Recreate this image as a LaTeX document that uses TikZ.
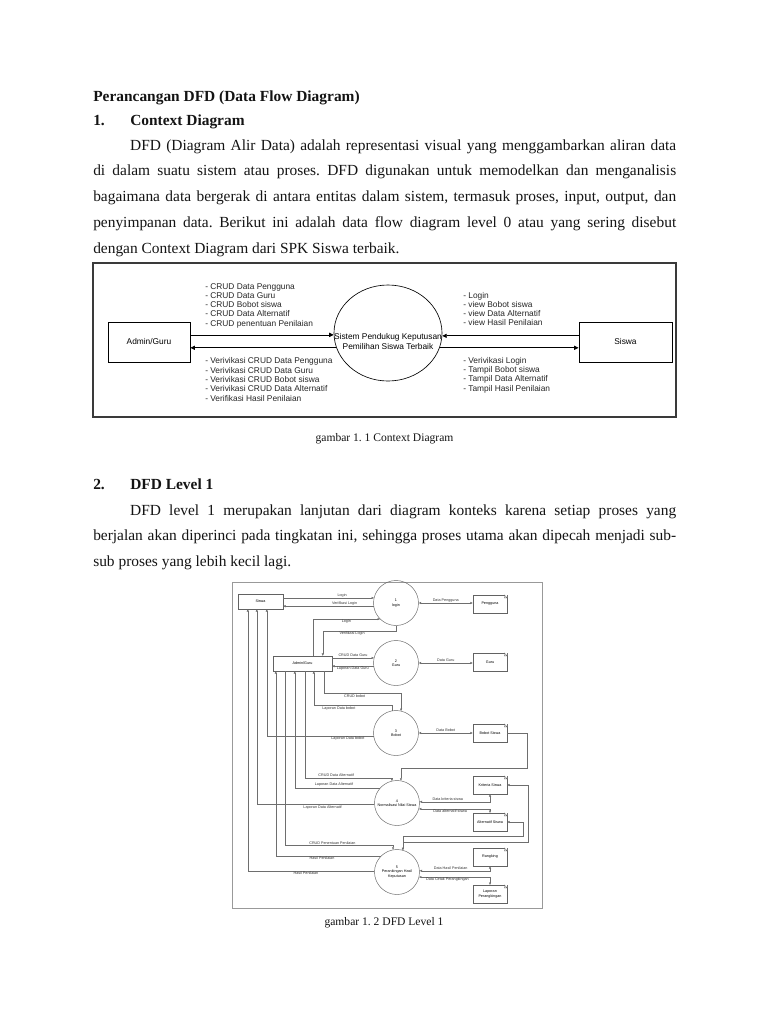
\documentclass[tikz,border=0pt]{standalone}
\usepackage{fontspec}
\setmainfont{Liberation Serif}
\setsansfont{Liberation Sans}
\usetikzlibrary{arrows.meta,positioning,shapes.geometric,calc}
\definecolor{framec}{HTML}{3A3A3A}
\definecolor{linec}{HTML}{6E6E6E}
\definecolor{boxc}{HTML}{626262}
\definecolor{inkc}{HTML}{141414}
\newcommand{\ctxfont}{\sffamily\fontsize{6.5}{7.2}\selectfont}
\newcommand{\lvfont}{\sffamily\fontsize{2.9}{3.3}\selectfont}
\frenchspacing
\tikzset{
  body/.style  ={inner sep=0pt,font=\fontsize{12}{20.15}\selectfont,text=inkc,anchor=base west},
  para/.style  ={body,text width=15.94cm,align=justify},
  capt/.style  ={inner sep=0pt,font=\fontsize{9}{11}\selectfont,anchor=base,text=inkc},
  % context diagram
  cent/.style  ={draw,line width=0.6pt,minimum height=1.094cm,font=\ctxfont},
  csys/.style  ={draw,ellipse,line width=0.5pt,minimum width=2.953cm,minimum height=2.625cm,inner sep=0pt},
  clist/.style ={font=\ctxfont,align=left,anchor=west,inner sep=0pt,text=black!85},
  cflow/.style ={-{Triangle[length=3.5pt,width=3.2pt]},line width=0.6pt},
  % dfd level 1
  ent/.style   ={draw=boxc,line width=0.35pt,minimum height=0.41cm,font=\lvfont},
  proc/.style  ={draw=boxc,circle,line width=0.35pt,minimum size=1.23cm,inner sep=0pt,font=\lvfont,align=center},
  store/.style ={draw=boxc,line width=0.35pt,minimum width=0.93cm,minimum height=0.49cm,inner sep=0pt,font=\lvfont,align=center},
  flow/.style  ={-{Triangle[length=1.8pt,width=1.6pt]},linec,line width=0.35pt},
  bflow/.style ={{Triangle[length=1.8pt,width=1.6pt]}-{Triangle[length=1.8pt,width=1.6pt]},linec,line width=0.35pt},
  lbl/.style   ={font=\lvfont,inner sep=0.7pt,text=black!80},
}
\begin{document}
\begin{tikzpicture}[x=0.02734cm,y=-0.02734cm]
  \fill[white] (0,0) rectangle (768,1024);
  \useasboundingbox (0,0) rectangle (768,1024);

  % text of the page
  \node[body,font=\fontsize{12}{20.15}\selectfont\bfseries] (judul) at (93,101) {Perancangan DFD (Data Flow Diagram)};
  \node[body,font=\fontsize{12}{20.15}\selectfont\bfseries] (no1) at (93,125) {1.};
  \node[body,font=\fontsize{12}{20.15}\selectfont\bfseries] (sub1) at (130,125) {Context Diagram};
  \node[para] (par1) at (93,150) {\hspace*{1.01cm}DFD (Diagram Alir Data) adalah representasi visual yang menggambarkan aliran data\linebreak
    di dalam suatu sistem atau proses. DFD digunakan untuk memodelkan dan menganalisis\linebreak
    bagaimana data bergerak di antara entitas dalam sistem, termasuk proses, input, output, dan\linebreak
    penyimpanan data. Berikut ini adalah data flow diagram level 0 atau yang sering disebut\linebreak
    dengan Context Diagram dari SPK Siswa terbaik.};

  % context diagram
  \draw[framec,line width=1.4pt] (93,263) rectangle (676,417);
  \node[cent,minimum width=2.242cm] (admin) at (149,342) {Admin/Guru};
  \node[cent,minimum width=2.543cm] (siswa) at (625.5,342) {Siswa};
  \node[csys] (spk) at (388,333) {};
  \node[font=\ctxfont,align=center,inner sep=0pt] (spktext) at (388,341.5) {Sistem Pendukug Keputusan\\Pemilihan Siswa Terbaik};

  \draw[cflow] (admin.east |- spk.182) -- (spk.182);
  \draw[cflow] (spk.196) -- (admin.east |- spk.196);
  \draw[cflow] (siswa.west |- spk.-3) -- (spk.-3);
  \draw[cflow] (spk.-16) -- (siswa.west |- spk.-16);

  \node[clist] (crud) at (205,305.5) {- CRUD Data Pengguna\\- CRUD Data Guru\\- CRUD Bobot siswa\\- CRUD Data Alternatif\\- CRUD penentuan Penilaian};
  \node[clist] (verif) at (205,379.5) {- Verivikasi CRUD Data Pengguna\\- Verivikasi CRUD Data Guru\\- Verivikasi CRUD Bobot siswa\\- Verivikasi CRUD Data Alternatif\\- Verifikasi Hasil Penilaian};
  \node[clist] (view) at (463,309) {- Login\\- view Bobot siswa\\- view Data Alternatif\\- view Hasil Penilaian};
  \node[clist] (tampil) at (463,375) {- Verivikasi Login\\- Tampil Bobot siswa\\- Tampil Data Alternatif\\- Tampil Hasil Penilaian};

  \node[capt] (cap1) at (384.5,441) {gambar 1. 1 Context Diagram};

  \node[body,font=\fontsize{12}{20.15}\selectfont\bfseries] (no2) at (93,489) {2.};
  \node[body,font=\fontsize{12}{20.15}\selectfont\bfseries] (sub2) at (130,489) {DFD Level 1};
  \node[para] (par2) at (93,515) {\hspace*{1.01cm}DFD level 1 merupakan lanjutan dari diagram konteks karena setiap proses yang\linebreak
    berjalan akan diperinci pada tingkatan ini, sehingga proses utama akan dipecah menjadi sub-\linebreak
    sub proses yang lebih kecil lagi.};

  % dfd level 1
  \draw[black!40,line width=0.6pt] (232,582) rectangle (542,908);
  \node[ent,minimum width=1.23cm] (siswa1) at (260.5,601.5) {Siswa};
  \node[ent,minimum width=1.613cm] (admin1) at (302.5,663.5) {Admin/Guru};
  \node[proc] (p1) at (396,603) {1\\login};
  \node[proc] (p2) at (396,663) {2\\Guru};
  \node[proc] (p3) at (396,733) {3\\Bobot};
  \node[proc] (p4) at (397,803) {4\\Normalisasi Nilai Siswa};
  \node[proc] (p5) at (397,872) {5\\Perankingan Hasil\\Keputusan};
  \node[store] (peng) at (490,604) {Pengguna};
  \node[store] (guru) at (490,662) {Guru};
  \node[store] (bobot) at (490,733) {Bobot Siswa};
  \node[store] (krit) at (490,785) {Kriteria Siswa};
  \node[store] (alt) at (490,822) {Alternatif Siswa};
  \node[store] (rank) at (490,857) {Rangking};
  \node[store] (lap) at (490,894) {Laporan\\Perangkingan};
  \foreach \s in {peng,guru,bobot,krit,alt,rank,lap}{
    \fill[white] ($(\s.north east)+(-3,0)$) -- (\s.north east) -- ($(\s.north east)+(0,3)$) -- cycle;
    \draw[boxc,line width=0.35pt] ($(\s.north east)+(-3,0)$) -- ($(\s.north east)+(0,3)$)
      ($(\s.north east)+(-3,0)$) -- ($(\s.north east)+(-3,3)$) -- ($(\s.north east)+(0,3)$);
  }

  % flows
  \draw[flow] (siswa1.east |- p1.167) -- (p1.167) node[lbl,above,pos=0.65] {Login};
  \draw[flow] (p1.188) -- (siswa1.east |- p1.188) node[lbl,above,pos=0.32] {Verifikasi Login};
  \draw[bflow] (p1.east) -- (p1.east -| peng.west) node[lbl,above,midway] {Data Pengguna};
  \draw[flow] ($(admin1.north west)+(40,0)$) |- (p1.225) node[lbl,below,pos=0.75] {Login};
  \draw[flow] (p1.south) -- ++(0,5) -| ($(admin1.north west)+(50,0)$) node[lbl,below,pos=0.3] {Verifikasi Login};
  \draw[flow] (admin1.east |- p2.167) -- (p2.167) node[lbl,above,midway] {CRUD Data Guru};
  \draw[flow] (p2.188) -- (admin1.east |- p2.188) node[lbl,below,midway] {Laporan Data Guru};
  \draw[bflow] (p2.east) -- (p2.east -| guru.west) node[lbl,above,midway] {Data Guru};
  \draw[flow] ($(admin1.south west)+(51,0)$) -- ++(0,22) -| (p3.77) node[lbl,below,pos=0.2] {CRUD bobot};
  \draw[flow] (p3.100) -- ++(0,-5) -| ($(admin1.south west)+(41,0)$) node[lbl,below,pos=0.34] {Laporan Data bobot};
  \draw[flow] (p3.188) -| ($(siswa1.south west)+(29,0)$) node[lbl,below,pos=0.12] {Laporan Data bobot};
  \draw[bflow] (p3.east) -- (p3.east -| bobot.west) node[lbl,above,midway] {Data Bobot};
  \draw[flow] (bobot.east) -- ++(20,0) |- ($(p4.80)+(0,-12)$) -- (p4.80);
  \draw[flow] ($(admin1.south west)+(32,0)$) |- ($(p4.103)+(0,-3)$) node[lbl,above,pos=0.68] {CRUD Data Alternatif} -- (p4.103);
  \draw[flow] (p4.138) -| ($(admin1.south west)+(22,0)$) node[lbl,above,pos=0.27] {Laporan Data Alternatif};
  \draw[flow] (p4.183) -| ($(siswa1.south west)+(19,0)$) node[lbl,below,pos=0.22] {Laporan Data Alternatif};
  \draw[bflow] (p4.3) -| (krit.south) node[lbl,above,pos=0.2] {Data kriteria siswa};
  \draw[bflow] (p4.-15) -| (alt.north) node[lbl,below,pos=0.22] {Data alternatif siswa};
  \draw[bflow] (krit.east) -- ++(21,0) |- ($(p5.75)+(0,-8)$) -- (p5.75);
  \draw[bflow] (alt.east) -- ++(16,0) |- ($(p5.75)+(0,-14)$) -- (p5.75);
  \draw[flow] ($(admin1.south west)+(12,0)$) |- ($(p5.100)+(0,-4)$) node[lbl,above,pos=0.72] {CRUD Penentuan Penilaian} -- (p5.100);
  \draw[flow] (p5.135) -| ($(admin1.south west)+(3,0)$) node[lbl,below,pos=0.28] {Hasil Penilaian};
  \draw[flow] (p5.177) -| ($(siswa1.south west)+(10,0)$) node[lbl,below,pos=0.27] {Hasil Penilaian};
  \draw[bflow] (p5.3) -| (rank.south) node[lbl,above,pos=0.22] {Data Hasil Penilaian};
  \draw[bflow] (p5.-13) -| (lap.north) node[lbl,below,pos=0.2] {Data Cetak Perangkingan};

  \node[capt] (cap2) at (384,925) {gambar 1. 2 DFD Level 1};
\end{tikzpicture}
\end{document}
